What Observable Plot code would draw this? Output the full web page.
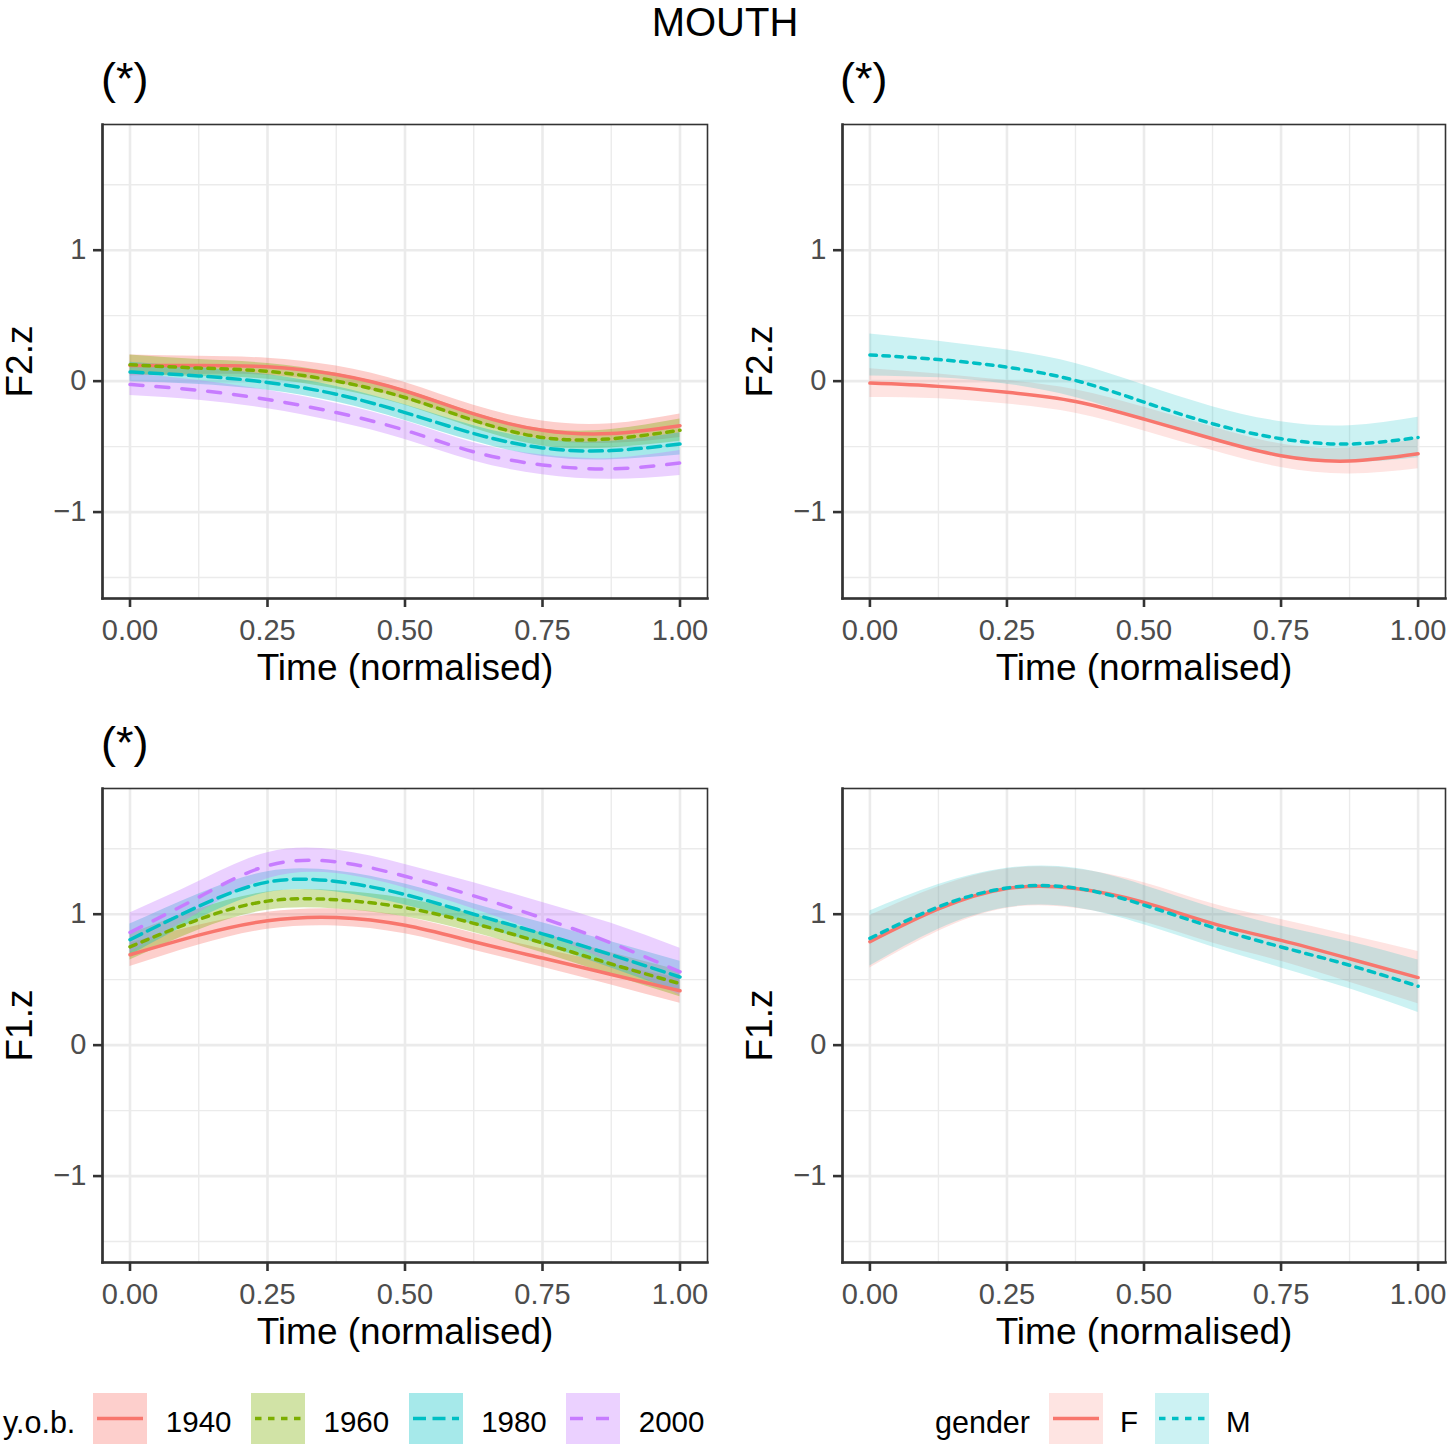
<!DOCTYPE html>
<html><head><meta charset="utf-8">
<script src="https://cdn.jsdelivr.net/npm/d3@7"></script>
<script src="https://cdn.jsdelivr.net/npm/@observablehq/plot@0.6"></script>
<style>
body{margin:0;background:#fff;font-family:"Liberation Sans",Arial,Helvetica,sans-serif;}
#root{position:relative;width:1450px;height:1449px;overflow:hidden;}
.abs{position:absolute;line-height:1.1;white-space:nowrap;color:#000;}
</style></head><body><div id="root"></div>
<script>
// ---- data ----
const time = [0, 0.125, 0.25, 0.375, 0.5, 0.625, 0.75, 0.875, 1];
const yobLevels = ["1940", "1960", "1980", "2000"];
const genderLevels = ["F", "M"];
const xTicks = [0, 0.25, 0.5, 0.75, 1];
const xMinor = [0.125, 0.375, 0.625, 0.875];
const yTicks = [-1, 0, 1];
const yMinor = [-1.5, -0.5, 0.5, 1.5];

// F2.z by year of birth
const f2_1940 = [0.12, 0.12, 0.11, 0.05, -0.075, -0.25, -0.375, -0.40, -0.34];
const f2_1960 = [0.125, 0.10, 0.075, 0.0, -0.125, -0.30, -0.43, -0.44, -0.375];
const f2_1980 = [0.07, 0.04, -0.01, -0.10, -0.24, -0.40, -0.51, -0.53, -0.48];
const f2_2000 = [-0.025, -0.07, -0.14, -0.24, -0.375, -0.54, -0.64, -0.67, -0.625];
const f2se_1940 = [0.08, 0.07, 0.065, 0.065, 0.065, 0.065, 0.07, 0.075, 0.09];
const f2se_1960 = [0.075, 0.065, 0.06, 0.06, 0.06, 0.06, 0.065, 0.07, 0.085];
const f2se_1980 = [0.075, 0.065, 0.06, 0.06, 0.06, 0.06, 0.065, 0.07, 0.085];
const f2se_2000 = [0.085, 0.075, 0.07, 0.07, 0.07, 0.07, 0.075, 0.08, 0.095];

// F1.z by year of birth
const f1_1940 = [0.69, 0.84, 0.95, 0.975, 0.915, 0.79, 0.665, 0.54, 0.415];
const f1_1960 = [0.75, 0.96, 1.10, 1.11, 1.05, 0.93, 0.78, 0.62, 0.47];
const f1_1980 = [0.805, 1.06, 1.245, 1.25, 1.15, 1.00, 0.85, 0.69, 0.52];
const f1_2000 = [0.86, 1.13, 1.37, 1.40, 1.29, 1.14, 0.97, 0.78, 0.56];
const f1se_1940 = [0.09, 0.075, 0.065, 0.065, 0.065, 0.065, 0.07, 0.08, 0.095];
const f1se_1960 = [0.10, 0.08, 0.07, 0.07, 0.07, 0.07, 0.075, 0.085, 0.10];
const f1se_1980 = [0.12, 0.095, 0.08, 0.08, 0.08, 0.08, 0.085, 0.10, 0.12];
const f1se_2000 = [0.15, 0.12, 0.10, 0.09, 0.09, 0.10, 0.12, 0.15, 0.18];

// F2.z by gender
const f2_F = [-0.015, -0.04, -0.085, -0.155, -0.29, -0.44, -0.57, -0.61, -0.555];
const f2_M = [0.20, 0.165, 0.107, 0.005, -0.16, -0.325, -0.44, -0.48, -0.43];
const f2se_F = [0.11, 0.095, 0.09, 0.09, 0.09, 0.09, 0.09, 0.10, 0.115];
const f2se_M = [0.16, 0.14, 0.13, 0.13, 0.13, 0.13, 0.13, 0.14, 0.155];

// F1.z by gender
const f1_F = [0.79, 1.04, 1.196, 1.196, 1.09, 0.93, 0.80, 0.66, 0.516];
const f1_M = [0.815, 1.056, 1.20, 1.20, 1.07, 0.90, 0.75, 0.61, 0.45];
const f1se_F = [0.20, 0.17, 0.15, 0.15, 0.15, 0.15, 0.16, 0.18, 0.20];
const f1se_M = [0.21, 0.17, 0.15, 0.15, 0.15, 0.15, 0.16, 0.18, 0.20];

// ---- styles ----
const yobColors = ["#F8766D", "#7CAE00", "#00BFC4", "#C77CFF"];
const yobDashes = [null, "6.5,6.5", "13,6.5", "13,13"];
const genderColors = ["#F8766D", "#00BFC4"];
const genderDashes = [null, "6.5,6.5"];
const yobAlpha = 0.35;
const genderAlpha = 0.2;
const LW = 3.5;
const FONT = '"Liberation Sans", Arial, Helvetica, sans-serif';

const root = document.getElementById("root");

function addText(txt, left, top, size, extra = "") {
  const d = document.createElement("div");
  d.className = "abs";
  d.textContent = txt;
  d.style.cssText += `left:${left}px;top:${top}px;font-size:${size}px;${extra}`;
  root.appendChild(d);
  return d;
}

function panel({left, top, marginLeft, marginRight, yLabel, groups, values, ses, colors, dashes, alpha}) {
  const rows = [];
  groups.forEach((g, gi) => time.forEach((t, i) => rows.push({
    g, t, v: values[gi][i], lo: values[gi][i] - ses[gi][i], hi: values[gi][i] + ses[gi][i]
  })));
  const gridStyle = {stroke: "#EBEBEB", strokeOpacity: 1};
  const marks = [
    Plot.gridX(xMinor, {...gridStyle, strokeWidth: 1.4}),
    Plot.gridY(yMinor, {...gridStyle, strokeWidth: 1.4}),
    Plot.gridX(xTicks, {...gridStyle, strokeWidth: 2.6}),
    Plot.gridY(yTicks, {...gridStyle, strokeWidth: 2.6})
  ];
  groups.forEach((g, gi) => marks.push(Plot.areaY(rows.filter(r => r.g === g), {
    x: "t", y1: "lo", y2: "hi", fill: colors[gi], fillOpacity: alpha, curve: "natural"
  })));
  groups.forEach((g, gi) => marks.push(Plot.line(rows.filter(r => r.g === g), {
    x: "t", y: "v", stroke: colors[gi], strokeWidth: LW, strokeDasharray: dashes[gi] || undefined, curve: "natural"
  })));
  marks.push(
    Plot.frame({stroke: "#333", strokeWidth: 1.6}),
    Plot.frame({anchor: "left", stroke: "#333", strokeWidth: 2.6}),
    Plot.frame({anchor: "bottom", stroke: "#333", strokeWidth: 2.6}),
    Plot.axisX(xTicks, {tickSize: 9, tickPadding: 12, fontSize: 29, stroke: "#333", fill: "#4D4D4D", strokeWidth: 2.6, tickFormat: d3.format(".2f"), label: null}),
    Plot.axisY(yTicks, {tickSize: 9, tickPadding: 7, fontSize: 29, stroke: "#333", fill: "#4D4D4D", strokeWidth: 2.6, tickFormat: d3.format("d"), label: null}),
    Plot.text(["Time (normalised)"], {frameAnchor: "bottom", textAnchor: "middle", lineAnchor: "middle", dy: 70, fontSize: 37, fill: "#000"}),
    Plot.text([yLabel], {frameAnchor: "left", textAnchor: "middle", lineAnchor: "middle", dx: -82, rotate: -90, fontSize: 37, fill: "#000"})
  );
  const svg = Plot.plot({
    width: 725, height: 600,
    marginTop: 14, marginBottom: 112, marginLeft, marginRight,
    x: {domain: [-0.05, 1.05]},
    y: {domain: [-1.66, 1.96]},
    style: {fontFamily: FONT, background: "transparent", overflow: "visible"},
    marks
  });
  svg.style.position = "absolute";
  svg.style.left = left + "px";
  svg.style.top = top + "px";
  root.appendChild(svg);
}

panel({left: 0, top: 110, marginLeft: 102, marginRight: 18, yLabel: "F2.z", groups: yobLevels,
  values: [f2_1940, f2_1960, f2_1980, f2_2000], ses: [f2se_1940, f2se_1960, f2se_1980, f2se_2000],
  colors: yobColors, dashes: yobDashes, alpha: yobAlpha});
panel({left: 725, top: 110, marginLeft: 117, marginRight: 5, yLabel: "F2.z", groups: genderLevels,
  values: [f2_F, f2_M], ses: [f2se_F, f2se_M],
  colors: genderColors, dashes: genderDashes, alpha: genderAlpha});
panel({left: 0, top: 774, marginLeft: 102, marginRight: 18, yLabel: "F1.z", groups: yobLevels,
  values: [f1_1940, f1_1960, f1_1980, f1_2000], ses: [f1se_1940, f1se_1960, f1se_1980, f1se_2000],
  colors: yobColors, dashes: yobDashes, alpha: yobAlpha});
panel({left: 725, top: 774, marginLeft: 117, marginRight: 5, yLabel: "F1.z", groups: genderLevels,
  values: [f1_F, f1_M], ses: [f1se_F, f1se_M],
  colors: genderColors, dashes: genderDashes, alpha: genderAlpha});

// titles
addText("MOUTH", 0, 0, 40, "width:1450px;text-align:center;");
addText("(*)", 101, 54, 45);
addText("(*)", 840, 54, 45);
addText("(*)", 101, 718, 45);

// legends
function legend(left, title, labels, colors, dashes, alpha, gapTitle, gapIn, gapOut) {
  const box = document.createElement("div");
  box.style.cssText = `position:absolute;left:${left}px;top:1392px;height:52px;display:flex;align-items:center;font-family:${FONT};`;
  const t = document.createElement("span");
  t.textContent = title;
  t.style.cssText = `font-size:30.5px;line-height:1;position:relative;top:4px;margin-right:${gapTitle}px;`;
  box.appendChild(t);
  labels.forEach((lab, i) => {
    const key = document.createElement("div");
    const c = d3.color(colors[i]); c.opacity = alpha;
    key.style.cssText = `width:54px;height:51px;background:${c.formatRgb()};position:relative;flex:none;`;
    const ns = "http://www.w3.org/2000/svg";
    const s = document.createElementNS(ns, "svg");
    s.setAttribute("width", 54); s.setAttribute("height", 51);
    s.style.position = "absolute"; s.style.left = "0"; s.style.top = "0";
    const ln = document.createElementNS(ns, "line");
    ln.setAttribute("x1", 4); ln.setAttribute("x2", 50);
    ln.setAttribute("y1", 25.5); ln.setAttribute("y2", 25.5);
    ln.setAttribute("stroke", colors[i]); ln.setAttribute("stroke-width", LW);
    if (dashes[i]) ln.setAttribute("stroke-dasharray", dashes[i]);
    s.appendChild(ln);
    key.appendChild(s);
    box.appendChild(key);
    const l = document.createElement("span");
    l.textContent = lab;
    l.style.cssText = `font-size:29.5px;line-height:1;position:relative;top:4px;margin-left:${gapIn}px;margin-right:${i < labels.length - 1 ? gapOut : 0}px;`;
    box.appendChild(l);
  });
  root.appendChild(box);
}
legend(3, "y.o.b.", yobLevels, yobColors, yobDashes, yobAlpha, 18, 18.5, 19.5);
legend(935, "gender", genderLevels, genderColors, genderDashes, genderAlpha, 19, 17, 17);
</script></body></html>
